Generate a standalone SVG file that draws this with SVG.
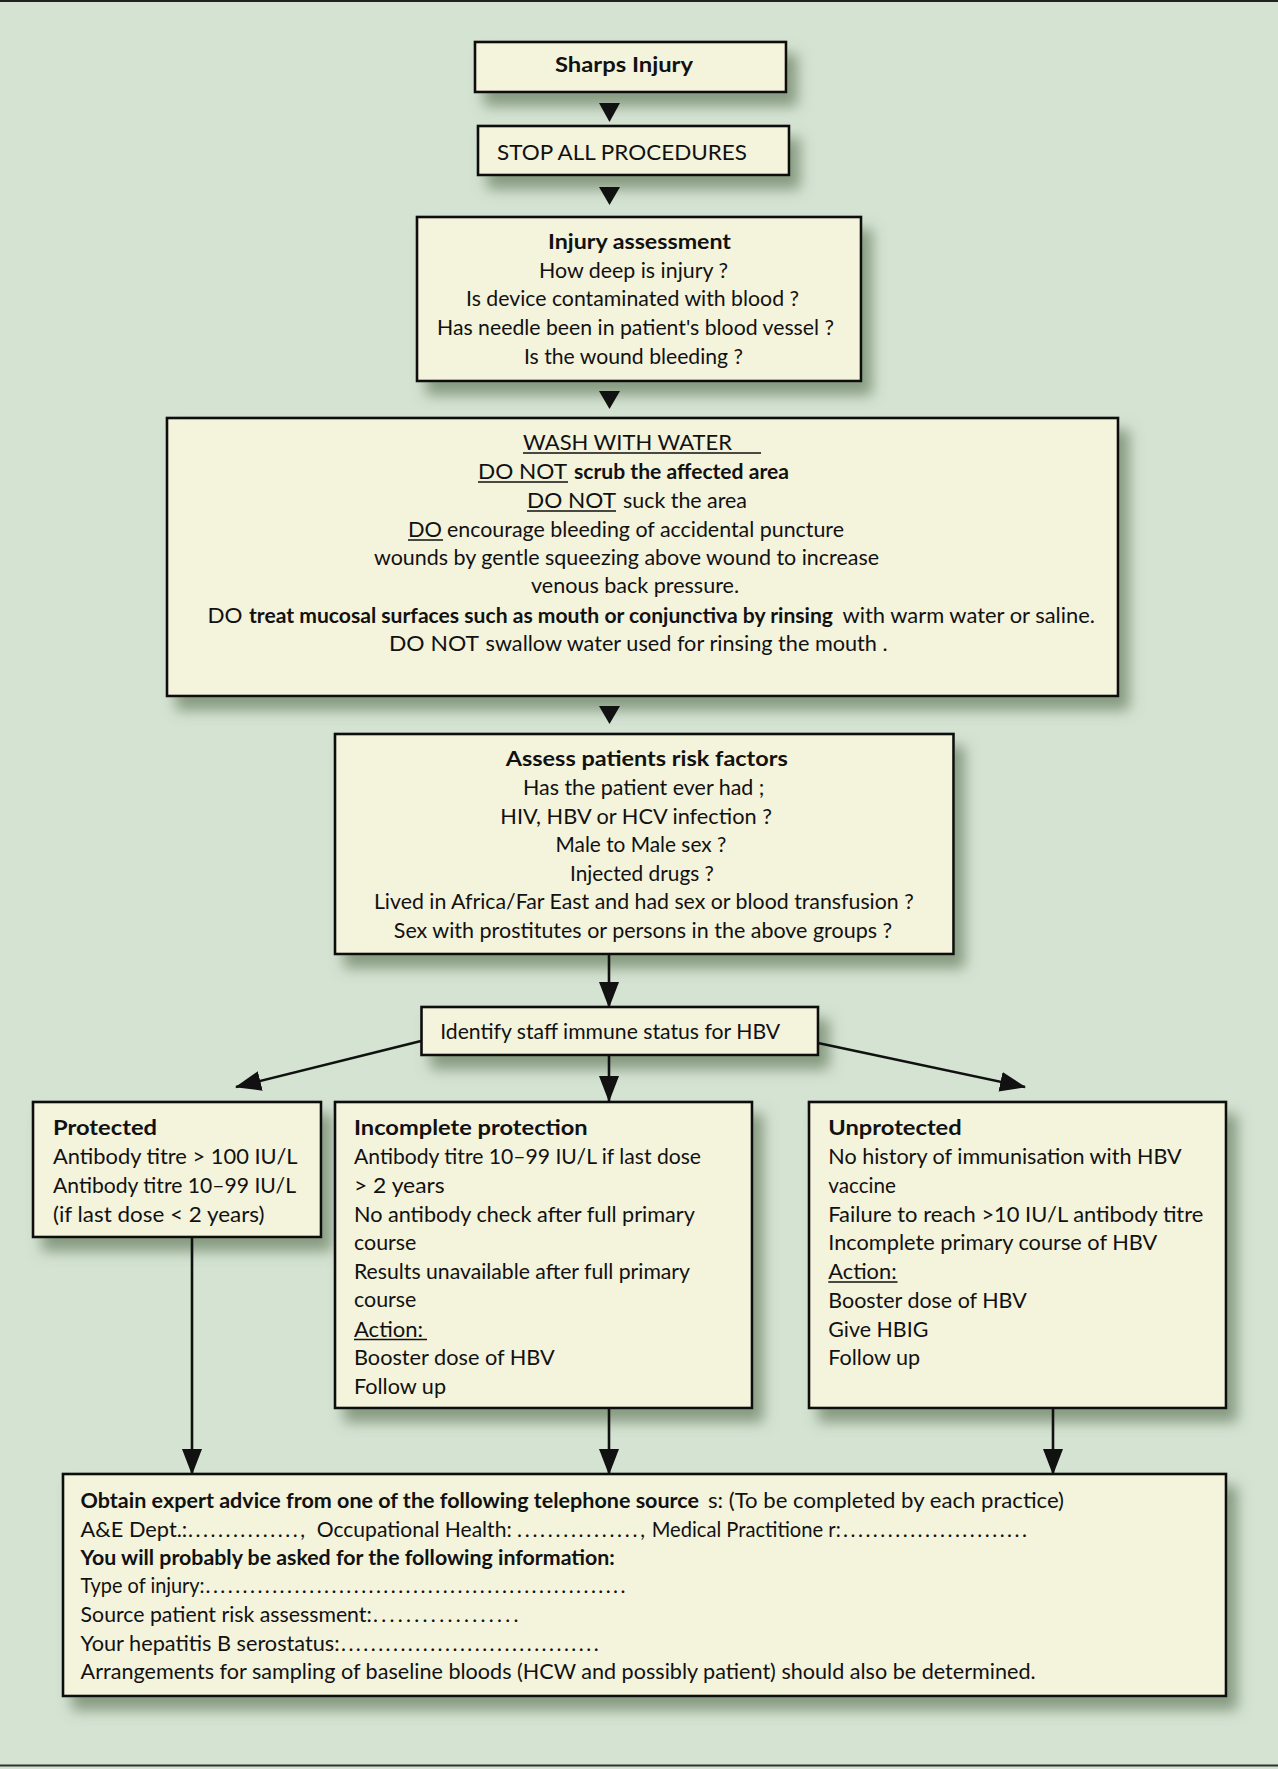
<svg xmlns="http://www.w3.org/2000/svg" width="1278" height="1769" viewBox="0 0 1278 1769">
<defs>
<style>
.bg{fill:#d5e3d3}
.box{fill:#f4f3dc;stroke:#111;stroke-width:2.6;filter:url(#sh)}
text{font-family:Lato,"Liberation Sans",sans-serif;font-size:21px;fill:#111}
.b{font-weight:700}
.ul{stroke:#111;stroke-width:1.6}
.con{stroke:#111;stroke-width:2.6;fill:none;marker-end:url(#ah)}
.tri{fill:#111}
</style>
<filter id="sh" x="-20%" y="-30%" width="160%" height="220%">
<feDropShadow dx="10" dy="13" stdDeviation="7" flood-color="#56704f" flood-opacity="0.62"/>
</filter>
<marker id="ah" viewBox="0 0 26 20" refX="25" refY="10" markerWidth="26" markerHeight="20" markerUnits="userSpaceOnUse" orient="auto">
<path d="M0,0 L26,10 L0,20 z" fill="#111"/>
</marker>
</defs>
<rect class="bg" x="0" y="0" width="1278" height="1769"/>
<line x1="0" y1="1" x2="1278" y2="1" stroke="#222" stroke-width="2"/>
<line x1="0" y1="1765.5" x2="1278" y2="1765.5" stroke="#333" stroke-width="2"/>

<g id="n1">
<rect class="box" x="475" y="42" width="311" height="50"/>
<text class="b" x="555" y="72" textLength="138" lengthAdjust="spacingAndGlyphs">Sharps Injury</text>
</g>
<g id="n2">
<rect class="box" x="478" y="126" width="311" height="49"/>
<text x="497" y="160" textLength="250" lengthAdjust="spacingAndGlyphs">STOP ALL PROCEDURES</text>
</g>
<g id="n3">
<rect class="box" x="417" y="217" width="444" height="164"/>
<text class="b" x="548" y="249" textLength="183" lengthAdjust="spacingAndGlyphs">Injury assessment</text>
<text x="539" y="278" textLength="189" lengthAdjust="spacingAndGlyphs">How deep is injury ?</text>
<text x="466" y="306" textLength="333" lengthAdjust="spacingAndGlyphs">Is device contaminated with blood ?</text>
<text x="437" y="335" textLength="397" lengthAdjust="spacingAndGlyphs">Has needle been in patient's blood vessel ?</text>
<text x="524" y="364" textLength="219" lengthAdjust="spacingAndGlyphs">Is the wound bleeding ?</text>
</g>
<g id="n4">
<rect class="box" x="167" y="418" width="951" height="278"/>
<text x="523" y="450" textLength="209" lengthAdjust="spacingAndGlyphs">WASH WITH WATER</text>
<line class="ul" x1="523" y1="453" x2="761" y2="453"/>
<text x="478" y="479" textLength="89" lengthAdjust="spacingAndGlyphs">DO NOT</text>
<line class="ul" x1="478" y1="482" x2="568" y2="482"/>
<text class="b" x="574" y="479" textLength="215" lengthAdjust="spacingAndGlyphs">scrub the affected area</text>
<text x="527" y="508" textLength="89" lengthAdjust="spacingAndGlyphs">DO NOT</text>
<line class="ul" x1="527" y1="511" x2="616" y2="511"/>
<text x="623" y="508" textLength="124" lengthAdjust="spacingAndGlyphs">suck the area</text>
<text x="408" y="537" textLength="34" lengthAdjust="spacingAndGlyphs">DO</text>
<line class="ul" x1="408" y1="540" x2="443" y2="540"/>
<text x="447" y="537" textLength="397" lengthAdjust="spacingAndGlyphs">encourage bleeding of accidental puncture</text>
<text x="374" y="565" textLength="505" lengthAdjust="spacingAndGlyphs">wounds by gentle squeezing above wound to increase</text>
<text x="531" y="593" textLength="208" lengthAdjust="spacingAndGlyphs">venous back pressure.</text>
<text x="207.5" y="623" textLength="35" lengthAdjust="spacingAndGlyphs">DO</text>
<text class="b" x="249" y="623" textLength="584" lengthAdjust="spacingAndGlyphs">treat mucosal surfaces such as mouth or conjunctiva by rinsing</text>
<text x="842.5" y="623" textLength="252.5" lengthAdjust="spacingAndGlyphs">with warm water or saline.</text>
<text x="389" y="651" textLength="90" lengthAdjust="spacingAndGlyphs">DO NOT</text>
<text x="485.6" y="651" textLength="402" lengthAdjust="spacingAndGlyphs">swallow water used for rinsing the mouth .</text>
</g>
<g id="n5">
<rect class="box" x="335" y="734" width="618.5" height="220"/>
<text class="b" x="505.7" y="766" textLength="282" lengthAdjust="spacingAndGlyphs">Assess patients risk factors</text>
<text x="523" y="795" textLength="241.4" lengthAdjust="spacingAndGlyphs">Has the patient ever had ;</text>
<text x="500.3" y="823.5" textLength="271.6" lengthAdjust="spacingAndGlyphs">HIV, HBV or HCV infection ?</text>
<text x="555.5" y="852" textLength="170.8" lengthAdjust="spacingAndGlyphs">Male to Male sex ?</text>
<text x="570" y="880.7" textLength="143.9" lengthAdjust="spacingAndGlyphs">Injected drugs ?</text>
<text x="373.9" y="909.3" textLength="539.8" lengthAdjust="spacingAndGlyphs">Lived in Africa/Far East and had sex or blood transfusion ?</text>
<text x="393.8" y="937.7" textLength="498.3" lengthAdjust="spacingAndGlyphs">Sex with prostitutes or persons in the above groups ?</text>
</g>
<g id="n6">
<rect class="box" x="421.5" y="1007" width="396.5" height="48"/>
<text x="440.2" y="1039" textLength="340" lengthAdjust="spacingAndGlyphs">Identify staff immune status for HBV</text>
</g>
<g id="n7">
<rect class="box" x="33" y="1102" width="288" height="135"/>
<text class="b" x="53" y="1135" textLength="104" lengthAdjust="spacingAndGlyphs">Protected</text>
<text x="53" y="1164" textLength="244.5" lengthAdjust="spacingAndGlyphs">Antibody titre &gt; 100 IU/L</text>
<text x="53" y="1192.7" textLength="243" lengthAdjust="spacingAndGlyphs">Antibody titre 10–99 IU/L</text>
<text x="53" y="1221.5" textLength="211.5" lengthAdjust="spacingAndGlyphs">(if last dose &lt; 2 years)</text>
</g>
<g id="n8">
<rect class="box" x="335" y="1102" width="417" height="306"/>
<text class="b" x="354" y="1135" textLength="233.7" lengthAdjust="spacingAndGlyphs">Incomplete protection</text>
<text x="354" y="1164" textLength="347" lengthAdjust="spacingAndGlyphs">Antibody titre 10–99 IU/L if last dose</text>
<text x="354" y="1193" textLength="90.7" lengthAdjust="spacingAndGlyphs">&gt; 2 years</text>
<text x="354" y="1221.7" textLength="340.8" lengthAdjust="spacingAndGlyphs">No antibody check after full primary</text>
<text x="354" y="1250" textLength="62.4" lengthAdjust="spacingAndGlyphs">course</text>
<text x="354" y="1279" textLength="336" lengthAdjust="spacingAndGlyphs">Results unavailable after full primary</text>
<text x="354" y="1307" textLength="62.4" lengthAdjust="spacingAndGlyphs">course</text>
<text x="354" y="1336.5" textLength="69" lengthAdjust="spacingAndGlyphs">Action:</text>
<line class="ul" x1="354" y1="1339.5" x2="427" y2="1339.5"/>
<text x="354" y="1365" textLength="200.7" lengthAdjust="spacingAndGlyphs">Booster dose of HBV</text>
<text x="354" y="1394" textLength="92" lengthAdjust="spacingAndGlyphs">Follow up</text>
</g>
<g id="n9">
<rect class="box" x="809" y="1102" width="417" height="306"/>
<text class="b" x="828.3" y="1135" textLength="133.4" lengthAdjust="spacingAndGlyphs">Unprotected</text>
<text x="828.3" y="1164" textLength="353.4" lengthAdjust="spacingAndGlyphs">No history of immunisation with HBV</text>
<text x="828.3" y="1193" textLength="67.7" lengthAdjust="spacingAndGlyphs">vaccine</text>
<text x="828.3" y="1221.7" textLength="375" lengthAdjust="spacingAndGlyphs">Failure to reach &gt;10 IU/L antibody titre</text>
<text x="828.3" y="1250" textLength="329" lengthAdjust="spacingAndGlyphs">Incomplete primary course of HBV</text>
<text x="828.3" y="1279" textLength="68.3" lengthAdjust="spacingAndGlyphs">Action:</text>
<line class="ul" x1="828.3" y1="1282" x2="897.5" y2="1282"/>
<text x="828.3" y="1308" textLength="198.4" lengthAdjust="spacingAndGlyphs">Booster dose of HBV</text>
<text x="828.3" y="1337" textLength="100" lengthAdjust="spacingAndGlyphs">Give HBIG</text>
<text x="828.3" y="1365" textLength="91.7" lengthAdjust="spacingAndGlyphs">Follow up</text>
</g>
<g id="n10">
<rect class="box" x="63" y="1474" width="1163" height="222"/>
<text class="b" x="80.6" y="1508.3" textLength="618.4" lengthAdjust="spacingAndGlyphs">Obtain expert advice from one of the following telephone  source</text>
<text x="708" y="1508.3" textLength="356" lengthAdjust="spacingAndGlyphs">s: (To be completed by each practice)</text>
<text x="80.6" y="1536.7" textLength="106.7" lengthAdjust="spacingAndGlyphs">A&amp;E Dept.:</text>
<text x="188" y="1536.7" textLength="117" lengthAdjust="spacing">...............,</text>
<text x="316.7" y="1536.7" textLength="195" lengthAdjust="spacingAndGlyphs">Occupational Health:</text>
<text x="517" y="1536.7" textLength="128" lengthAdjust="spacing">................,</text>
<text x="651.7" y="1536.7" textLength="189" lengthAdjust="spacingAndGlyphs">Medical Practitione r:</text>
<text x="843" y="1536.7" textLength="184" lengthAdjust="spacing">.........................</text>
<text class="b" x="80.6" y="1565" textLength="534.2" lengthAdjust="spacingAndGlyphs">You will probably be asked for the following information:</text>
<text x="80.6" y="1593.3" textLength="124" lengthAdjust="spacingAndGlyphs">Type of injury:</text>
<text x="205.5" y="1593.3" textLength="420" lengthAdjust="spacing">.........................................................</text>
<text x="80.6" y="1622.3" textLength="291.2" lengthAdjust="spacingAndGlyphs">Source patient risk assessment:</text>
<text x="373" y="1622.3" textLength="145.5" lengthAdjust="spacing">..................</text>
<text x="80.6" y="1650.7" textLength="259" lengthAdjust="spacingAndGlyphs">Your hepatitis B serostatus:</text>
<text x="341" y="1650.7" textLength="257.6" lengthAdjust="spacing">...................................</text>
<text x="80.6" y="1679" textLength="955" lengthAdjust="spacingAndGlyphs">Arrangements for sampling of baseline bloods (HCW and possibly patient) should also be determined.</text>
</g>

<g id="connectors">
<polygon class="tri" points="599,103 620,103 609.5,122"/>
<polygon class="tri" points="599,187 620,187 609.5,205"/>
<polygon class="tri" points="599,391 620,391 609.5,409"/>
<polygon class="tri" points="599,706 620,706 609.5,724"/>
<line class="con" x1="609" y1="955" x2="609" y2="1007"/>
<line class="con" x1="421" y1="1041" x2="236" y2="1087"/>
<line class="con" x1="609" y1="1056" x2="609" y2="1101"/>
<line class="con" x1="818" y1="1043" x2="1025" y2="1087"/>
<line class="con" x1="192" y1="1238" x2="192" y2="1474"/>
<line class="con" x1="609" y1="1409" x2="609" y2="1474"/>
<line class="con" x1="1053" y1="1409" x2="1053" y2="1474"/>
</g>
</svg>
